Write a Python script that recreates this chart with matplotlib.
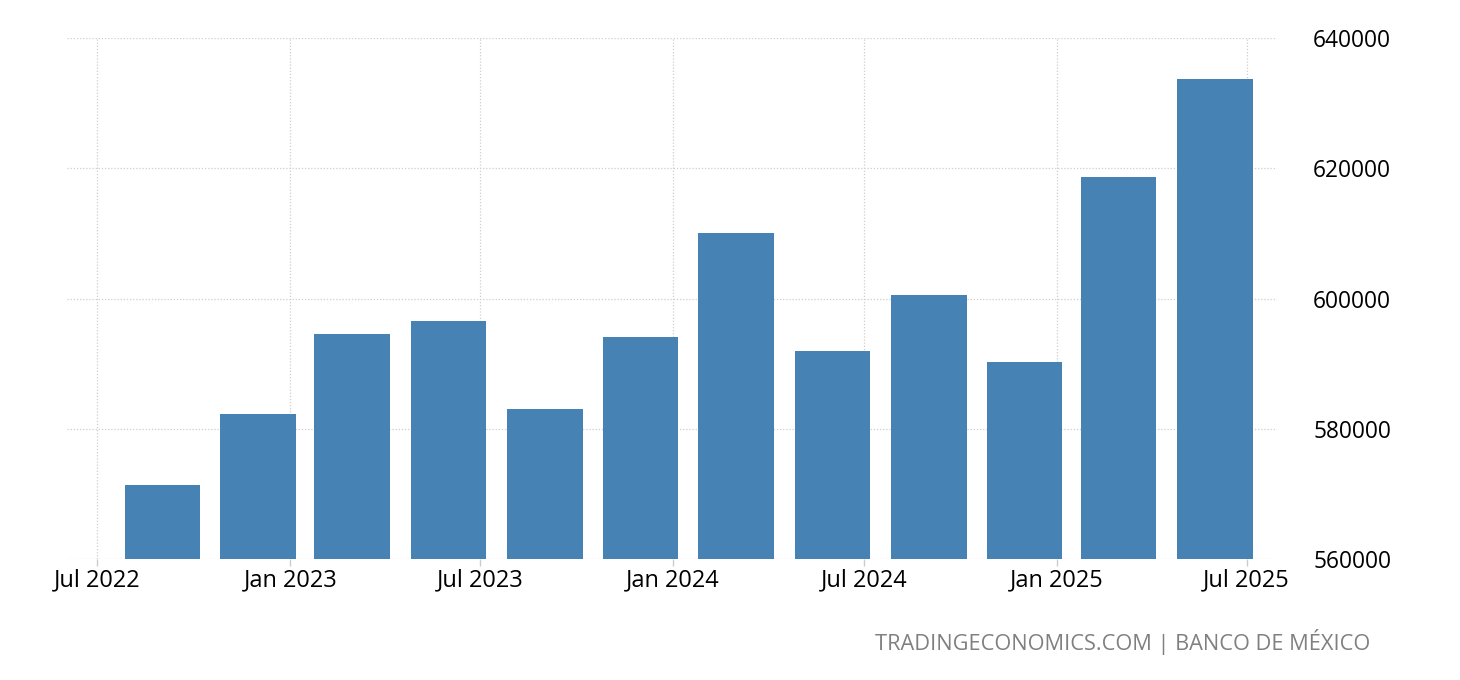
import matplotlib
matplotlib.use('Agg')
import matplotlib.pyplot as plt
import matplotlib.dates as mdates
import numpy as np
import pandas as pd

# donnees (trimestrielles)
dates = ['2022-09-01', '2022-12-01', '2023-03-01', '2023-06-01',
         '2023-09-01', '2023-12-01', '2024-03-01', '2024-06-01',
         '2024-09-01', '2024-12-01', '2025-03-01', '2025-06-01']
values = [571300, 582200, 594600, 596500,
          583100, 594100, 610000, 591900,
          600500, 590200, 618600, 633700]
y_ticks = [560000, 580000, 600000, 620000, 640000]
x_ticks = ['2022-07-01', '2023-01-01', '2023-07-01', '2024-01-01',
           '2024-07-01', '2025-01-01', '2025-07-01']
source = 'TRADINGECONOMICS.COM | BANCO DE MÉXICO'

plt.rcParams['font.family'] = ['Open Sans', 'DejaVu Sans']

x = pd.to_datetime(dates)
fig = plt.figure(figsize=(14.6, 6.8), dpi=100)
ax = fig.add_axes([67/1460, 1-559/680, (1277-67)/1460, (559-38)/680])

ax.bar(x, np.array(values) - 560000, bottom=560000, width=72,
       color='#4682b4', zorder=2)

ax.set_ylim(560000, 640000)
ax.set_xlim(pd.Timestamp('2022-06-02'), pd.Timestamp('2025-07-30'))
ax.set_yticks(y_ticks)
ax.set_yticklabels([str(v) for v in y_ticks])
ax.set_xticks(pd.to_datetime(x_ticks))
ax.xaxis.set_major_formatter(mdates.DateFormatter('%b %Y'))

ax.yaxis.tick_right()
ax.tick_params(axis='y', length=0, pad=26, labelsize=16.4, labelcolor='black')
ax.tick_params(axis='x', length=5, width=1, color='#cccccc', pad=2,
               labelsize=17, labelcolor='black')
ax.grid(True, color='#cfcfcf', linestyle=(0, (1, 1.5)), linewidth=0.9, zorder=0)
ax.set_axisbelow(True)
for s in ax.spines.values():
    s.set_visible(False)

fig.text(1370/1460, 1-642/680, source, ha='right', va='center',
         fontsize=15.7, color='#808080')

fig.savefig('out.png', dpi=100, facecolor='white')
